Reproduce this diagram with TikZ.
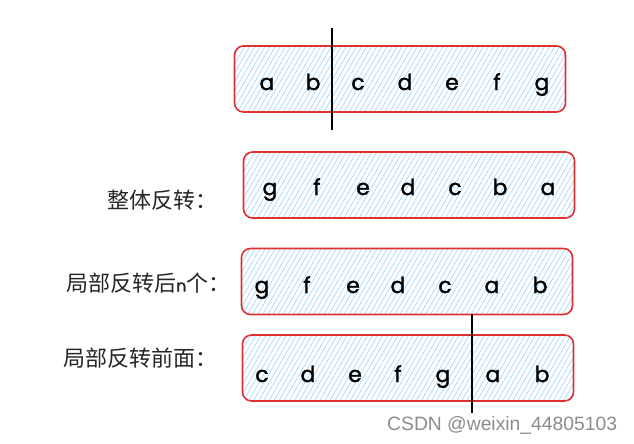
\documentclass[tikz,border=0pt]{standalone}
\usepackage{fontspec}
\setmainfont{Poppins}
\newfontfamily\handfont[FakeBold=1.6]{Poppins}
\newfontfamily\cjk{Noto Sans CJK SC}
\setsansfont{Liberation Sans}
\usetikzlibrary{patterns.meta}
\definecolor{boxred}{RGB}{224,49,49}
\definecolor{hatchblue}{RGB}{165,216,255}

\tikzset{
    cellbox/.style={draw=boxred, line width=1.6pt, rounded corners=9pt,
        pattern={Lines[angle=60,distance=4.4pt,line width=0.7pt]},
        pattern color=hatchblue, minimum width=331pt, minimum height=66pt},
    letter/.style={anchor=base, inner sep=0pt, font=\handfont\fontsize{22}{22}\selectfont},
    rowlabel/.style={anchor=west, inner sep=0pt, text=black!85,
        font=\cjk\fontsize{22}{22}\selectfont},
    cutline/.style={line width=1.5pt, black}
}

\begin{document}
\begin{tikzpicture}[x=1pt,y=-1pt]
            \useasboundingbox (0,0) rectangle (634,444);
            \node[cellbox] (row1) at (400,79) {};
            \node[cellbox] (row2) at (409,185) {};
            \node[cellbox] (row3) at (407,281.5) {};
            \node[cellbox] (row4) at (408,368) {};
            \node[letter] (r1a) at (267,90) {a}; \node[letter] (r1b) at (313,90) {b};
            \node[letter] (r1c) at (358,90) {c}; \node[letter] (r1d) at (405,90) {d};
            \node[letter] (r1e) at (452,90) {e}; \node[letter] (r1f) at (497,90) {f};
            \node[letter] (r1g) at (542,90) {g};
            \node[letter] (r2g) at (270,195) {g}; \node[letter] (r2f) at (317,195) {f};
            \node[letter] (r2e) at (363,195) {e}; \node[letter] (r2d) at (408,195) {d};
            \node[letter] (r2c) at (455,195) {c}; \node[letter] (r2b) at (500,195) {b};
            \node[letter] (r2a) at (548,195) {a};
            \node[letter] (r3g) at (262,293) {g}; \node[letter] (r3f) at (307,293) {f};
            \node[letter] (r3e) at (353,293) {e}; \node[letter] (r3d) at (398,293) {d};
            \node[letter] (r3c) at (445,293) {c}; \node[letter] (r3a) at (492,293) {a};
            \node[letter] (r3b) at (540,293) {b};
            \node[letter] (r4c) at (262,382) {c}; \node[letter] (r4d) at (308,382) {d};
            \node[letter] (r4e) at (355,382) {e}; \node[letter] (r4f) at (398,382) {f};
            \node[letter] (r4g) at (443,382) {g}; \node[letter] (r4a) at (493,382) {a};
            \node[letter] (r4b) at (542,382) {b};
            \node[rowlabel] (lbl2) at (107,200) {整体反转：};
            \node[rowlabel] (lbl3) at (66,283) {局部反转后{\handfont\fontsize{16}{16}\selectfont n}个：};
            \node[rowlabel] (lbl4) at (63,358) {局部反转前面：};
            \coordinate (cut1top) at (332,28);
            \coordinate (cut1bot) at (332,130);
            \draw[cutline] (cut1top) -- (cut1bot);
            \coordinate (cut2top) at (472,314);
            \coordinate (cut2bot) at (472,413);
            \draw[cutline] (cut2top) -- (cut2bot);
            \node[anchor=west, inner sep=0pt, text=black!45,
                font=\sffamily\fontsize{19.3}{19.3}\selectfont] (wmark) at (387,425) {CSDN @weixin\_44805103};
        \end{tikzpicture}
\end{document}
